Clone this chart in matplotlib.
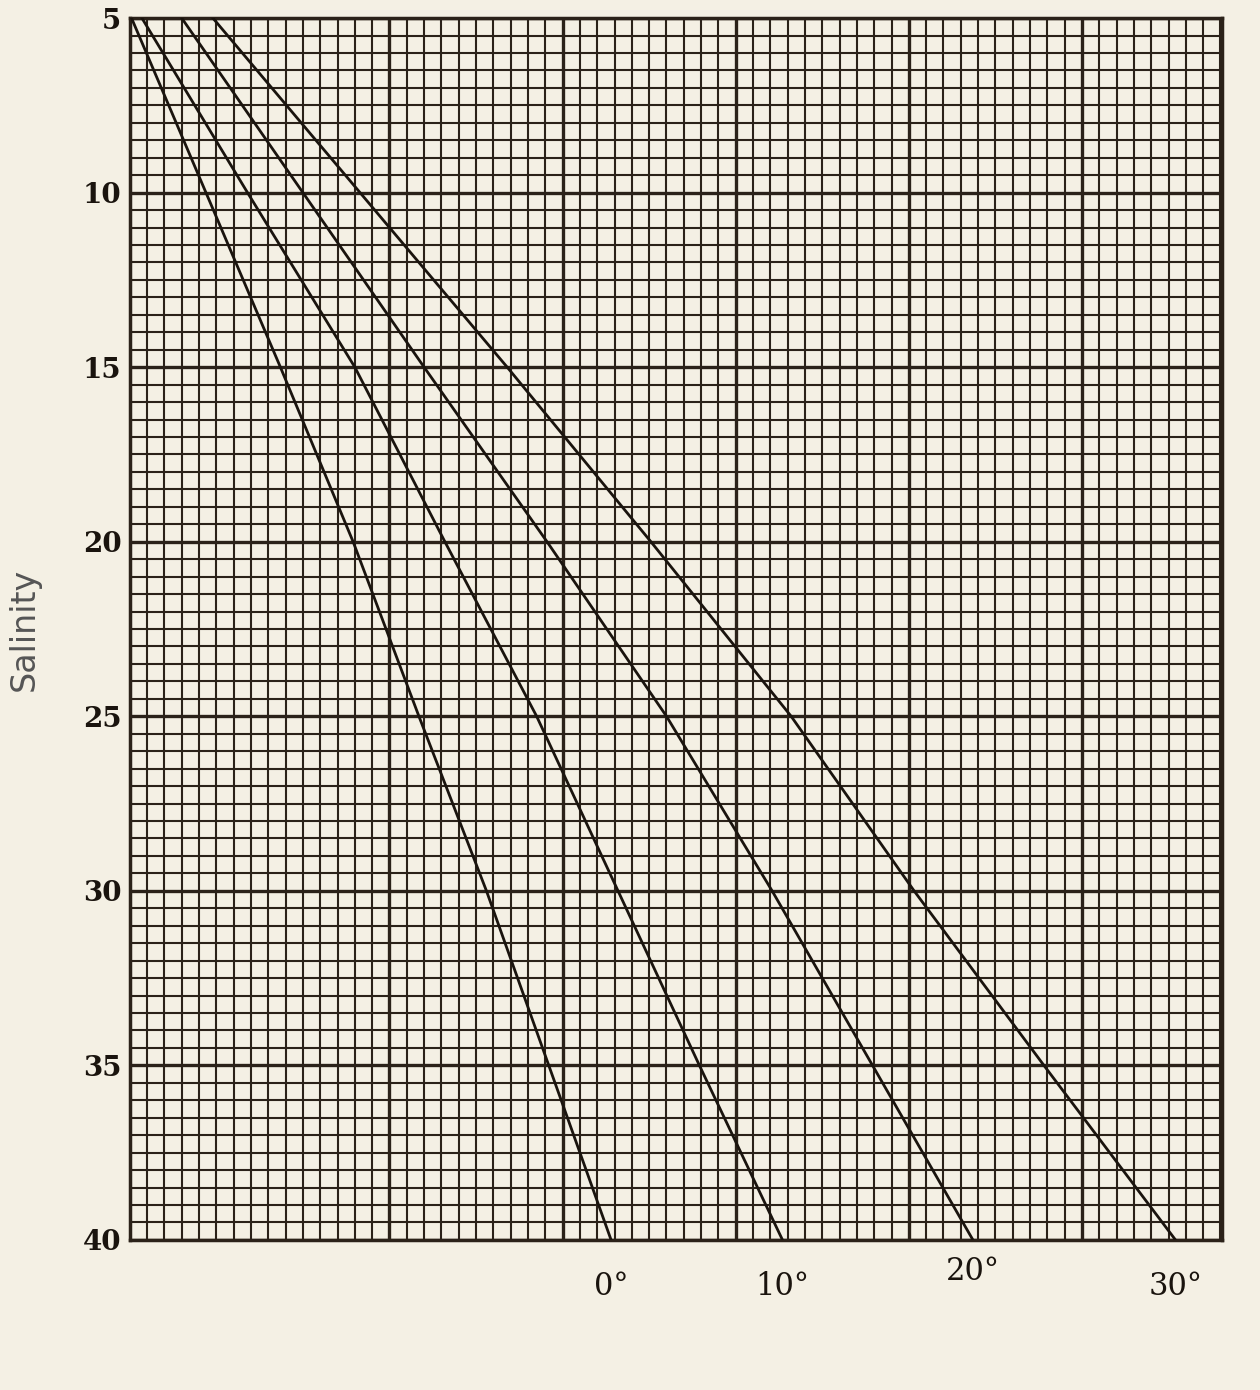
import matplotlib
matplotlib.use("Agg")
import matplotlib.pyplot as plt
import numpy as np

salinity = [5, 10, 15, 20, 25, 30, 35, 40]
line_0 = [-14.9, -10.6, -6.3, -2.1, 1.7, 5.6, 9.2, 12.8]
line_10 = [-14.3, -8.2, -2.0, 3.2, 8.5, 13.2, 17.9, 22.7]
line_20 = [-12.0, -5.0, 2.0, 9.1, 16.0, 22.1, 27.9, 33.7]
line_30 = [-10.2, -1.7, 6.8, 15.1, 23.2, 30.3, 37.8, 45.4]
temp_labels = ["0°", "10°", "20°", "30°"]
y_ticks = [5, 10, 15, 20, 25, 30, 35, 40]

bg = "#f4f0e4"
ink = "#2b2219"
fig = plt.figure(figsize=(12.6, 13.9), dpi=100, facecolor=bg)
ax = fig.add_axes([0.103, 0.108, 0.867, 0.879], facecolor=bg)
ax.set_xlim(-15, 48.1)
ax.set_ylim(40, 5)

for x in np.arange(-15, 48.2, 1):
    major = abs(x % 10) < 1e-6 and x >= 0
    ax.axvline(x, color=ink, lw=2.4 if major else 1.5, zorder=1)
for y in np.arange(5, 40.01, 0.5):
    major = abs(y % 5) < 1e-6
    ax.axhline(y, color=ink, lw=2.4 if major else 1.5, zorder=1)

for xs in (line_0, line_10, line_20, line_30):
    ax.plot(xs, salinity, color="#1a140e", lw=2.0, zorder=3)

for s in ax.spines.values():
    s.set_linewidth(2.5)
    s.set_color(ink)

ax.set_yticks(y_ticks)
ax.set_yticklabels([str(v) for v in y_ticks], fontsize=20, family="DejaVu Serif",
                   fontweight="bold", color="#1a140e")
ax.tick_params(axis="y", length=0, pad=6)
ax.set_xticks([])
ax.set_ylabel("Salinity", fontsize=24, family="DejaVu Sans", color="#555555", labelpad=30)

for xs, lab in zip((line_0, line_10, line_20, line_30), temp_labels):
    dy = 0.45 if lab == "20°" else 0.9
    ax.text(xs[-1], 40 + dy, lab, ha="center", va="top", fontsize=22,
            family="DejaVu Serif", color="#1a140e", clip_on=False)

fig.savefig("out.png", dpi=100, facecolor=bg)
